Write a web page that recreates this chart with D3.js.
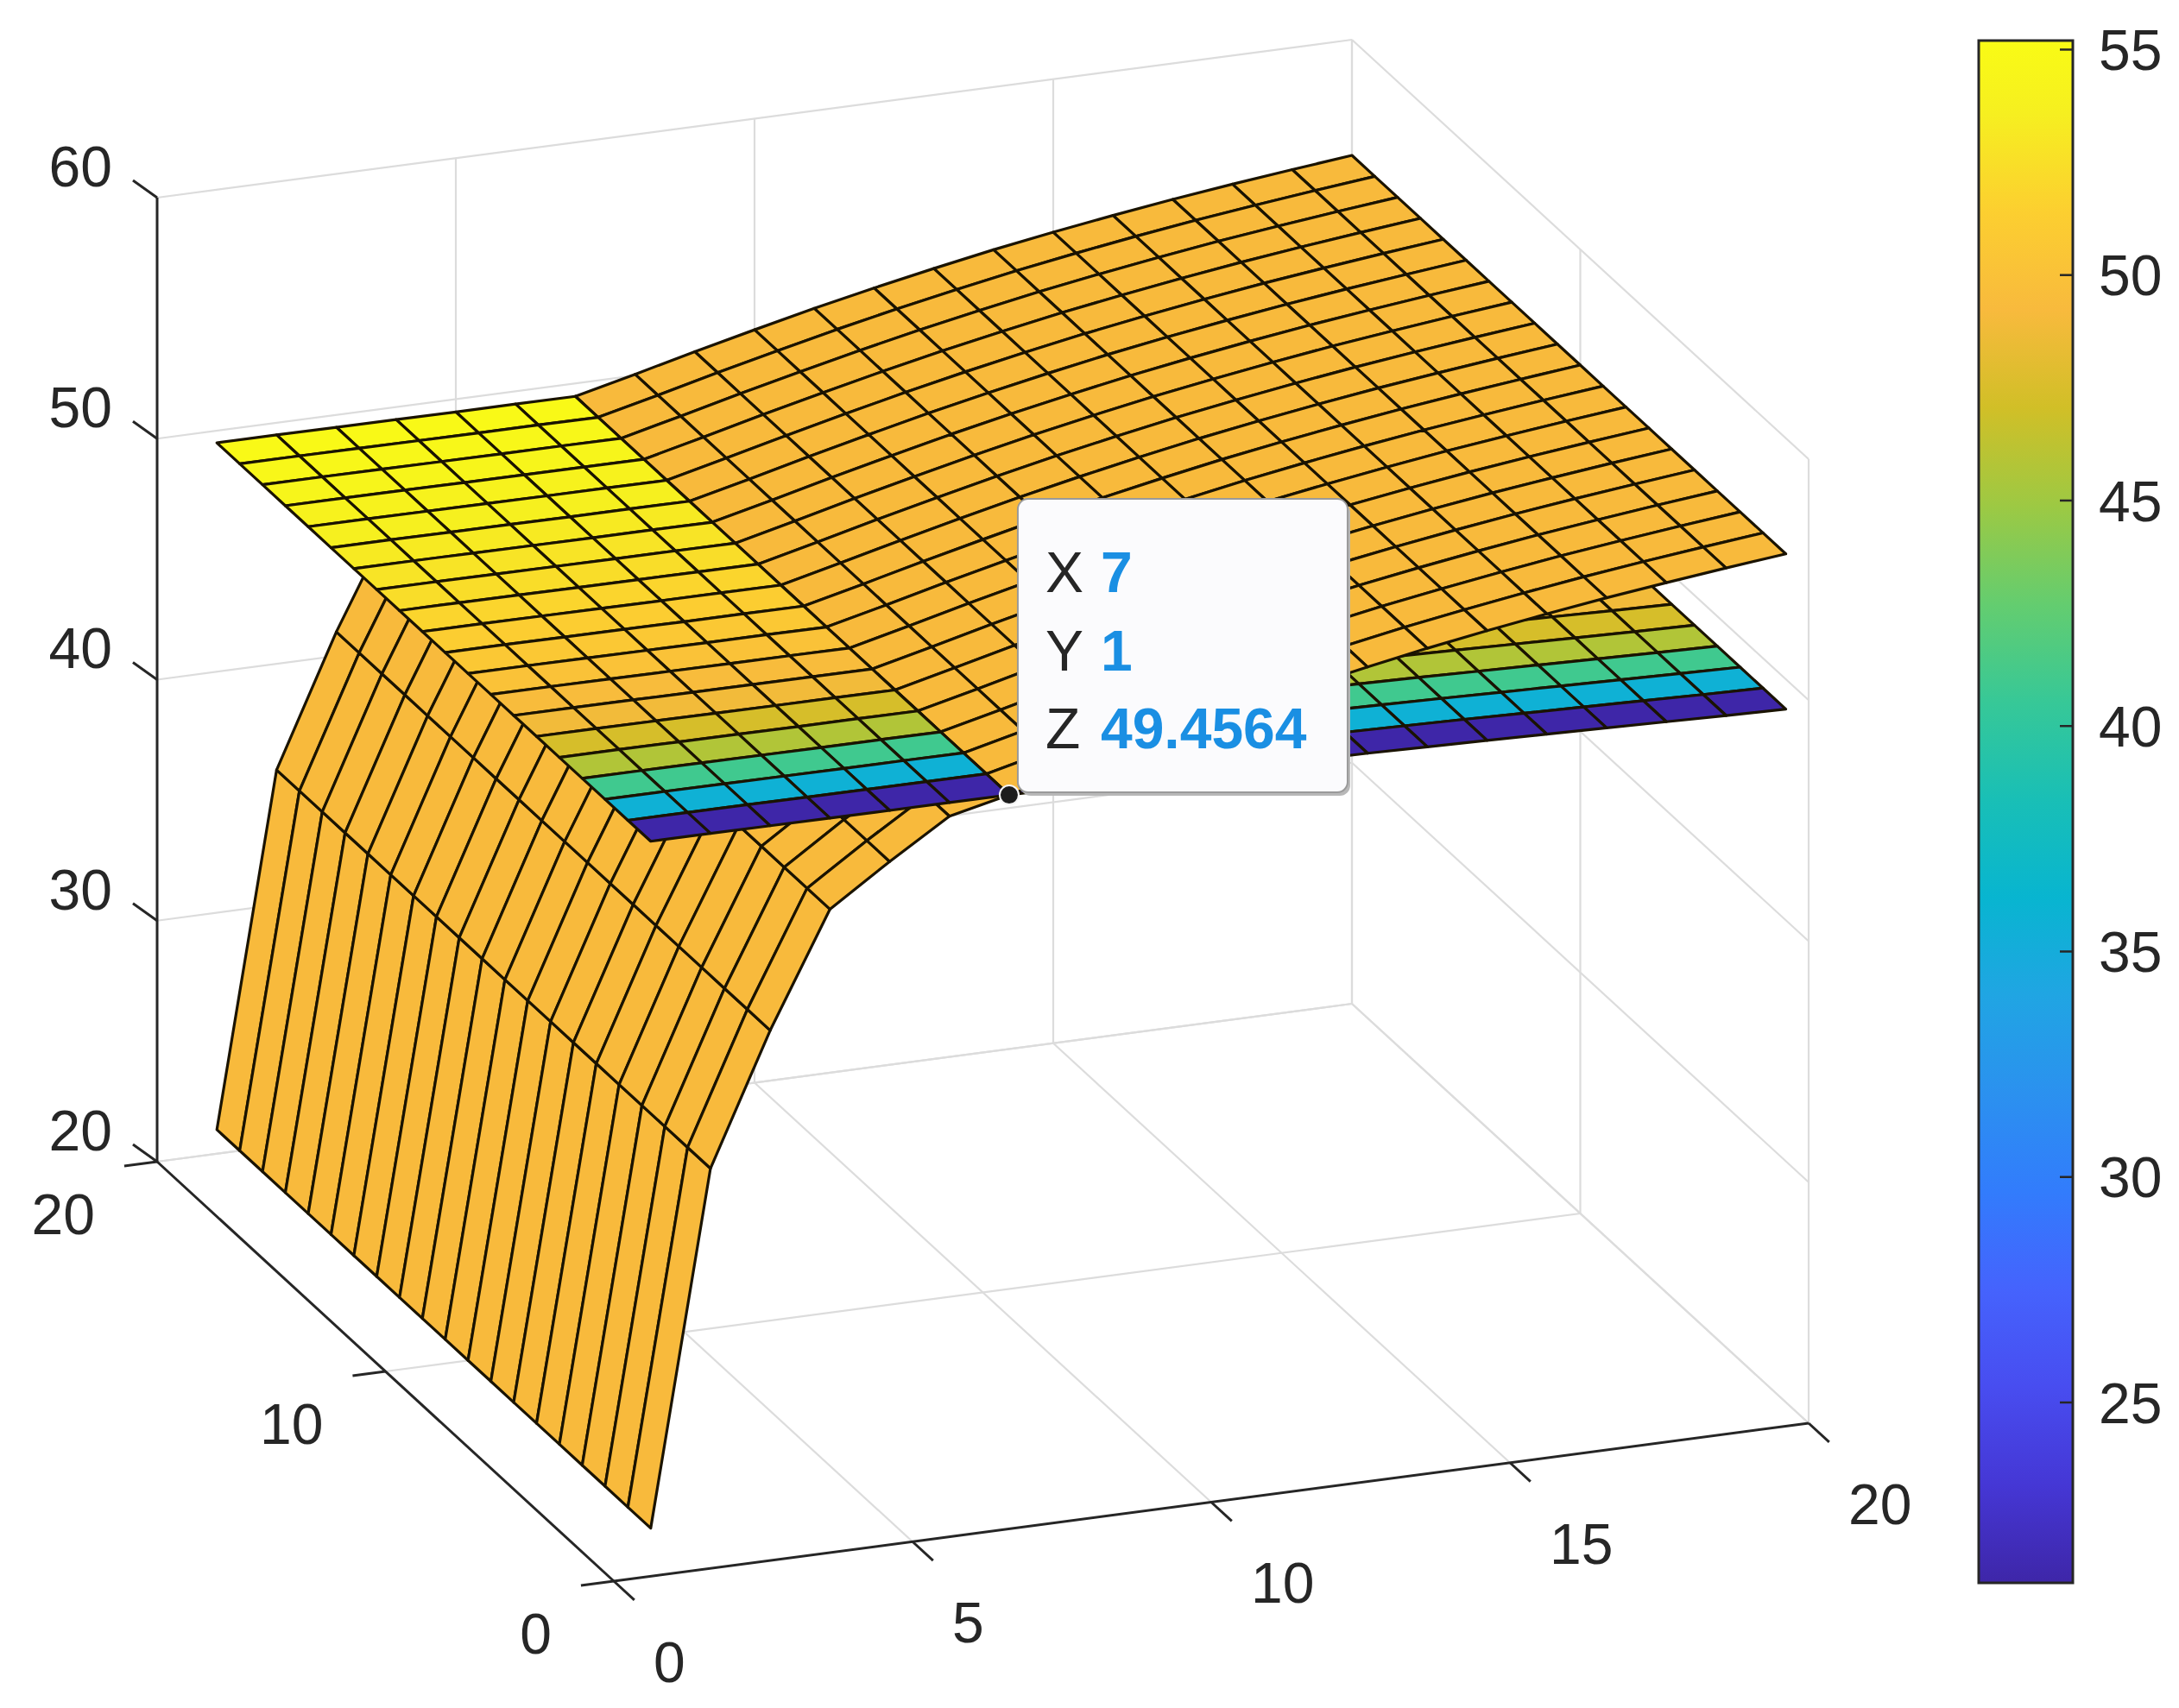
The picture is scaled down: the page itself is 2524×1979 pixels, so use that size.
<!DOCTYPE html>
<html>
<head>
<meta charset="utf-8" />
<title>Surface with data tip</title>
<script src="https://cdnjs.cloudflare.com/ajax/libs/d3/7.8.5/d3.min.js"></script>
<style>
  html, body { margin: 0; padding: 0; background: #fff; }
  svg { display: block; font-family: "Liberation Sans", Arial, Helvetica, sans-serif; }
</style>
</head>
<body>
<div id="chart"></div>
<script>
// grid indices, surf(Z) style (1..20 on both axes)
const xIdx = [1, 2, 3, 4, 5, 6, 7, 8, 9, 10, 11, 12, 13, 14, 15, 16, 17, 18, 19, 20];
const yIdx = [1, 2, 3, 4, 5, 6, 7, 8, 9, 10, 11, 12, 13, 14, 15, 16, 17, 18, 19, 20];

// orange sheet: height along x (same for every y row)
const zOrange = [21.0, 35.6, 41.0, 45.7, 47.35, 48.9, 49.46, 50.05, 50.66, 51.24,
                 51.8, 52.32, 52.8, 53.25, 53.65, 54.02, 54.36, 54.66, 54.94, 55.2];

// coloured sheet: height along x (nearly flat)
const zSheet = [49.5, 49.5, 49.49, 49.48, 49.47, 49.47, 49.46, 49.42, 49.38, 49.34,
                49.3, 49.26, 49.22, 49.16, 49.1, 49.03, 48.96, 48.89, 48.82, 48.76];

// coloured sheet: colour value for each y row (it follows the orange profile)
const sheetRowValue = zOrange;

const xTicks = [0, 5, 10, 15, 20];
const yTicks = [0, 10, 20];
const zTicks = [20, 30, 40, 50, 60];
const cTicks = [25, 30, 35, 40, 45, 50, 55];

// data tip
const tipPoint = [7, 1, 49.4564];
const tipNames = ["X", "Y", "Z"];
const tipValues = ["7", "1", "49.4564"];

// parula colormap stops
const parulaStops = [
  [0 / 63, [0.2422, 0.1504, 0.6603]], [4 / 63, [0.2706, 0.2147, 0.8364]],
  [8 / 63, [0.2813, 0.3006, 0.9414]], [12 / 63, [0.2699, 0.3892, 0.9906]],
  [16 / 63, [0.1963, 0.4847, 0.9892]], [20 / 63, [0.1687, 0.5703, 0.9359]],
  [24 / 63, [0.1248, 0.6459, 0.8883]], [28 / 63, [0.0297, 0.7082, 0.8163]],
  [32 / 63, [0.0964, 0.7500, 0.7120]], [36 / 63, [0.2161, 0.7843, 0.5923]],
  [40 / 63, [0.3909, 0.8029, 0.4354]], [44 / 63, [0.6174, 0.7876, 0.2612]],
  [48 / 63, [0.8203, 0.7498, 0.1535]], [52 / 63, [0.9728, 0.7298, 0.2394]],
  [56 / 63, [0.9892, 0.8136, 0.1885]], [60 / 63, [0.9628, 0.9373, 0.1265]],
  [63 / 63, [0.9769, 0.9839, 0.0805]]
];
const toRgb = c => d3.rgb(c[0] * 255, c[1] * 255, c[2] * 255).formatHex();

const W = 2524, H = 1979;
const ORANGE = "#f8ba3c";
const INK = "#262626";
const FONT = 66;

const svg = d3.select("#chart").append("svg")
  .attr("width", W).attr("height", H)
  .attr("viewBox", `0 0 ${W} ${H}`);
svg.append("rect").attr("width", W).attr("height", H).attr("fill", "#fff");

// 3D box -> unit cube -> screen (orthographic)
const xs = d3.scaleLinear().domain([0, 20]).range([0, 1]);
const ys = d3.scaleLinear().domain([0, 20]).range([0, 1]);
const zs = d3.scaleLinear().domain([20, 60]).range([0, 1]);
const ORIGIN = [711, 1832];
const UX = [1384, -183], VY = [-529, -486], WZ = [0, -1117];

function project(p) {
  const u = xs(p[0]), v = ys(p[1]), w = zs(p[2]);
  return [ORIGIN[0] + u * UX[0] + v * VY[0] + w * WZ[0],
          ORIGIN[1] + u * UX[1] + v * VY[1] + w * WZ[1]];
}

// direction towards the viewer, for painter's sorting
const r1 = [UX[0], VY[0], WZ[0]], r2 = [UX[1], VY[1], WZ[1]];
let view = [r1[1] * r2[2] - r1[2] * r2[1], r1[2] * r2[0] - r1[0] * r2[2], r1[0] * r2[1] - r1[1] * r2[0]];
if (view[2] < 0) view = view.map(d => -d);
const depth = p => view[0] * xs(p[0]) + view[1] * ys(p[1]) + view[2] * zs(p[2]);

const [cMin, cMax] = d3.extent(zOrange);
const parula = d3.scaleLinear()
  .domain(parulaStops.map(s => cMin + s[0] * (cMax - cMin)))
  .range(parulaStops.map(s => toRgb(s[1])))
  .interpolate(d3.interpolateRgb)
  .clamp(true);

const line3 = d3.line().x(p => project(p)[0]).y(p => project(p)[1]);

// grid lines on the back walls and floor
const gridSegs = [];
zTicks.forEach(z => {
  gridSegs.push([[0, 20, z], [20, 20, z]]);
  gridSegs.push([[20, 0, z], [20, 20, z]]);
});
xTicks.filter(x => x > 0).forEach(x => {
  gridSegs.push([[x, 20, 20], [x, 20, 60]]);
  gridSegs.push([[x, 0, 20], [x, 20, 20]]);
});
yTicks.forEach(y => {
  gridSegs.push([[20, y, 20], [20, y, 60]]);
  if (y > 0) gridSegs.push([[0, y, 20], [20, y, 20]]);
});
svg.append("g").selectAll("path").data(gridSegs).join("path")
  .attr("d", line3)
  .attr("fill", "none")
  .attr("stroke", "#dcdcdc")
  .attr("stroke-width", 2.2);

// axis lines
const axisSegs = [
  [[0, 0, 20], [20, 0, 20]],
  [[0, 0, 20], [0, 20, 20]],
  [[0, 20, 20], [0, 20, 60]]
];
const axes = svg.append("g");
axes.selectAll("path.axis").data(axisSegs).join("path")
  .attr("class", "axis")
  .attr("d", line3)
  .attr("fill", "none")
  .attr("stroke", INK)
  .attr("stroke-width", 3);

// ticks
const tickSegs = [
  ...xTicks.map(x => [[x, 0, 20], [x, -0.9, 20]]),
  ...yTicks.map(y => [[0, y, 20], [-0.55, y, 20]]),
  ...zTicks.map(z => [[0, 20, z], [-0.08, 20.85, z]])
];
axes.selectAll("path.tick").data(tickSegs).join("path")
  .attr("class", "tick")
  .attr("d", line3)
  .attr("fill", "none")
  .attr("stroke", INK)
  .attr("stroke-width", 3);

// surfaces: quads of both sheets, sorted back to front
const faces = [];
for (let i = 0; i < xIdx.length - 1; i++) {
  for (let j = 0; j < yIdx.length - 1; j++) {
    const x0 = xIdx[i], x1 = xIdx[i + 1], y0 = yIdx[j], y1 = yIdx[j + 1];
    faces.push({
      pts: [[x0, y0, zOrange[i]], [x1, y0, zOrange[i + 1]], [x1, y1, zOrange[i + 1]], [x0, y1, zOrange[i]]],
      fill: ORANGE
    });
    faces.push({
      pts: [[x0, y0, zSheet[i]], [x1, y0, zSheet[i + 1]], [x1, y1, zSheet[i + 1]], [x0, y1, zSheet[i]]],
      fill: parula(sheetRowValue[j])
    });
  }
}
faces.forEach(f => { f.depth = d3.mean(f.pts, depth); });
faces.sort((a, b) => a.depth - b.depth);

svg.append("g").selectAll("path").data(faces).join("path")
  .attr("d", f => line3(f.pts) + "Z")
  .attr("fill", f => f.fill)
  .attr("stroke", "#1a1300")
  .attr("stroke-width", 3.2)
  .attr("stroke-linejoin", "round");

// tick labels
const labels = svg.append("g")
  .attr("font-size", FONT)
  .attr("fill", INK);
labels.selectAll("text.xl").data(xTicks).join("text")
  .attr("class", "xl")
  .attr("x", d => project([d, 0, 20])[0] + 46)
  .attr("y", d => project([d, 0, 20])[1] + 93)
  .attr("dy", "0.36em")
  .attr("text-anchor", "start")
  .text(d => d);
labels.selectAll("text.yl").data(yTicks).join("text")
  .attr("class", "yl")
  .attr("x", d => project([0, d, 20])[0] - 72)
  .attr("y", d => project([0, d, 20])[1] + 60)
  .attr("dy", "0.36em")
  .attr("text-anchor", "end")
  .text(d => d);
labels.selectAll("text.zl").data(zTicks).join("text")
  .attr("class", "zl")
  .attr("x", d => project([0, 20, d])[0] - 52)
  .attr("y", d => project([0, 20, d])[1] - 37)
  .attr("dy", "0.36em")
  .attr("text-anchor", "end")
  .text(d => d);

// data tip
const tip = project(tipPoint);
const boxL = tip[0] + 10, boxT = tip[1] - 343, boxW = 382, boxH = 340;
const tipG = svg.append("g");
tipG.append("rect")
  .attr("x", boxL + 3).attr("y", boxT + 4)
  .attr("width", boxW).attr("height", boxH)
  .attr("rx", 12).attr("fill", "#b8b8b8");
tipG.append("rect")
  .attr("x", boxL).attr("y", boxT)
  .attr("width", boxW).attr("height", boxH)
  .attr("rx", 12)
  .attr("fill", "#fbfbfd")
  .attr("stroke", "#9a9a9a")
  .attr("stroke-width", 2);
tipNames.forEach((n, k) => {
  const t = tipG.append("text")
    .attr("x", boxL + 32)
    .attr("y", boxT + 108 + k * 90.5)
    .attr("font-size", FONT);
  t.append("tspan").attr("fill", INK).text(n);
  t.append("tspan")
    .attr("x", boxL + 96)
    .attr("fill", "#1a8fe3")
    .attr("font-weight", "bold")
    .text(tipValues[k]);
});
tipG.append("circle")
  .attr("cx", tip[0]).attr("cy", tip[1])
  .attr("r", 11)
  .attr("fill", "#1c1c1c")
  .attr("stroke", "#f4f4f4")
  .attr("stroke-width", 2);

// colorbar
const cbX = 2292, cbW = 109, cbTop = 47, cbBottom = 1834;
const cScale = d3.scaleLinear().domain([cMin, cMax]).range([cbBottom, cbTop]);
const grad = svg.append("defs").append("linearGradient")
  .attr("id", "parulaGrad")
  .attr("x1", 0).attr("y1", 1).attr("x2", 0).attr("y2", 0);
grad.selectAll("stop").data(parulaStops).join("stop")
  .attr("offset", s => s[0])
  .attr("stop-color", s => toRgb(s[1]));
const cb = svg.append("g");
cb.append("rect")
  .attr("x", cbX).attr("y", cbTop)
  .attr("width", cbW).attr("height", cbBottom - cbTop)
  .attr("fill", "url(#parulaGrad)")
  .attr("stroke", INK)
  .attr("stroke-width", 3);
cb.selectAll("line").data(cTicks).join("line")
  .attr("x1", cbX + cbW).attr("x2", cbX + cbW - 15)
  .attr("y1", d => cScale(d)).attr("y2", d => cScale(d))
  .attr("stroke", INK)
  .attr("stroke-width", 2.5);
cb.selectAll("text").data(cTicks).join("text")
  .attr("x", cbX + cbW + 30)
  .attr("y", d => cScale(d))
  .attr("dy", "0.36em")
  .attr("font-size", FONT)
  .attr("fill", INK)
  .text(d => d);
</script>
</body>
</html>
